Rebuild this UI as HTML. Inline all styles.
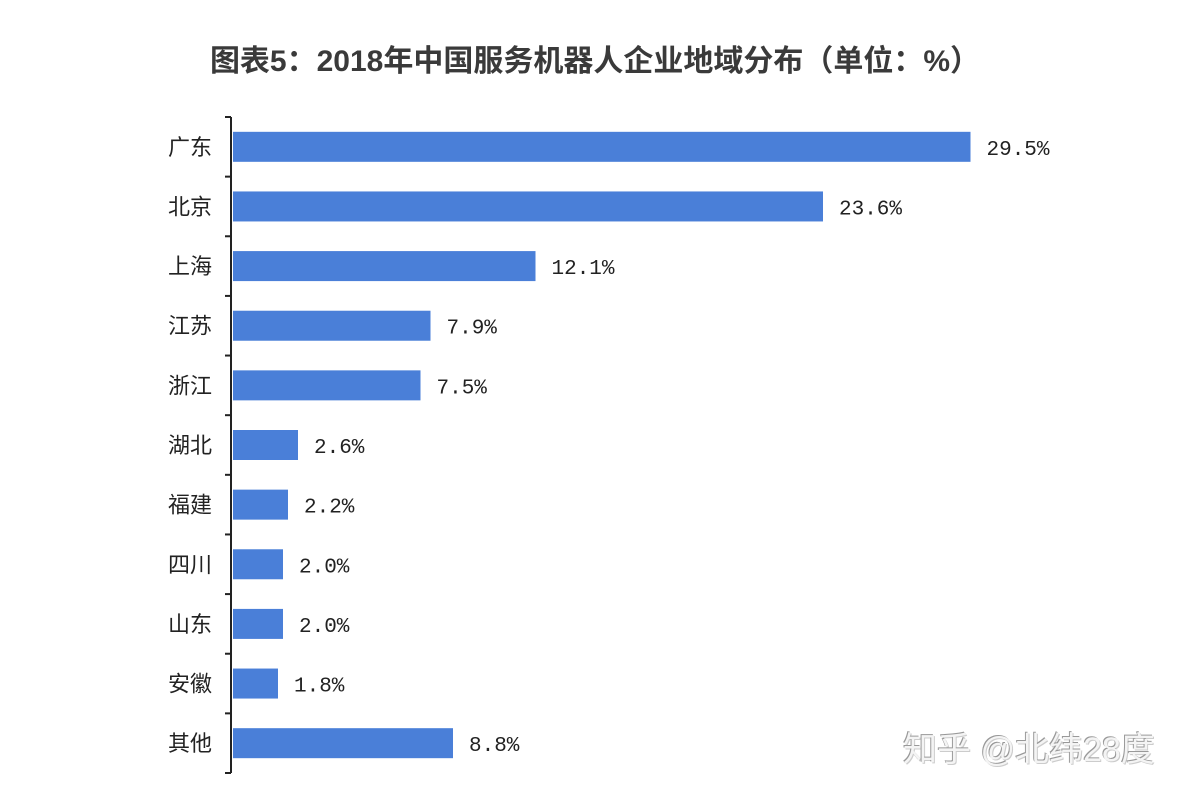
<!DOCTYPE html>
<html><head><meta charset="utf-8">
<style>
html,body{margin:0;padding:0;background:#fff;}
body{width:1196px;height:792px;overflow:hidden;position:relative;font-family:"Liberation Sans","Noto Sans CJK SC",sans-serif;}
#title{position:absolute;left:0;width:1190px;top:36px;text-align:center;font-size:30px;font-weight:bold;color:#3a3a3a;}
#wm{position:absolute;left:903px;top:722px;font-size:34px;color:#f4f4f4;text-shadow:-1px -1px 0 #999,1px 1px 0 #ccc;white-space:nowrap;}
</style></head><body>
<div id="title">图表5：2018年中国服务机器人企业地域分布（单位：%）</div>
<svg id="chart" width="1196" height="792" style="position:absolute;left:0;top:0"></svg>
<div id="wm">知乎 @北纬28度</div>
<script>
const categories=["广东","北京","上海","江苏","浙江","湖北","福建","四川","山东","安徽","其他"];
const values=[29.5,23.6,12.1,7.9,7.5,2.6,2.2,2.0,2.0,1.8,8.8];
const valueLabels=["29.5%","23.6%","12.1%","7.9%","7.5%","2.6%","2.2%","2.0%","2.0%","1.8%","8.8%"];
const NS="http://www.w3.org/2000/svg";
const svg=document.getElementById('chart');
const x0=233,pxPer=25.0,yTop=117,yBot=773;
const step=(yBot-yTop)/categories.length;
const xScale=v=>x0+v*pxPer;
const yScale=i=>yTop+step*i+step/2;
function mk(t,a){const e=document.createElementNS(NS,t);for(const k in a)e.setAttribute(k,a[k]);svg.appendChild(e);return e;}
categories.forEach((c,i)=>{
  const cy=yScale(i),h=30;
  const r=mk('rect',{x:x0,y:cy-h/2,width:xScale(values[i])-x0,height:h,fill:'#4a7fd8'});
  
  
  const l=mk('text',{x:212,y:cy+8,'text-anchor':'end','font-size':'22',fill:'#222'});
  l.textContent=c;
  
  
  const v=mk('text',{x:xScale(values[i])+16,y:cy+8,'font-size':'21',fill:'#222','font-family':'Liberation Mono, monospace'});
  v.textContent=valueLabels[i];
  
  
});
const ax=mk('line',{x1:231,y1:yTop,x2:231,y2:yBot,stroke:'#222','stroke-width':'2'});


for(let i=0;i<=categories.length;i++){
  const ty=yTop+step*i;
  const t=mk('line',{x1:225,y1:ty,x2:231,y2:ty,stroke:'#222','stroke-width':'2'});
  
  
}
</script>
</body></html>
